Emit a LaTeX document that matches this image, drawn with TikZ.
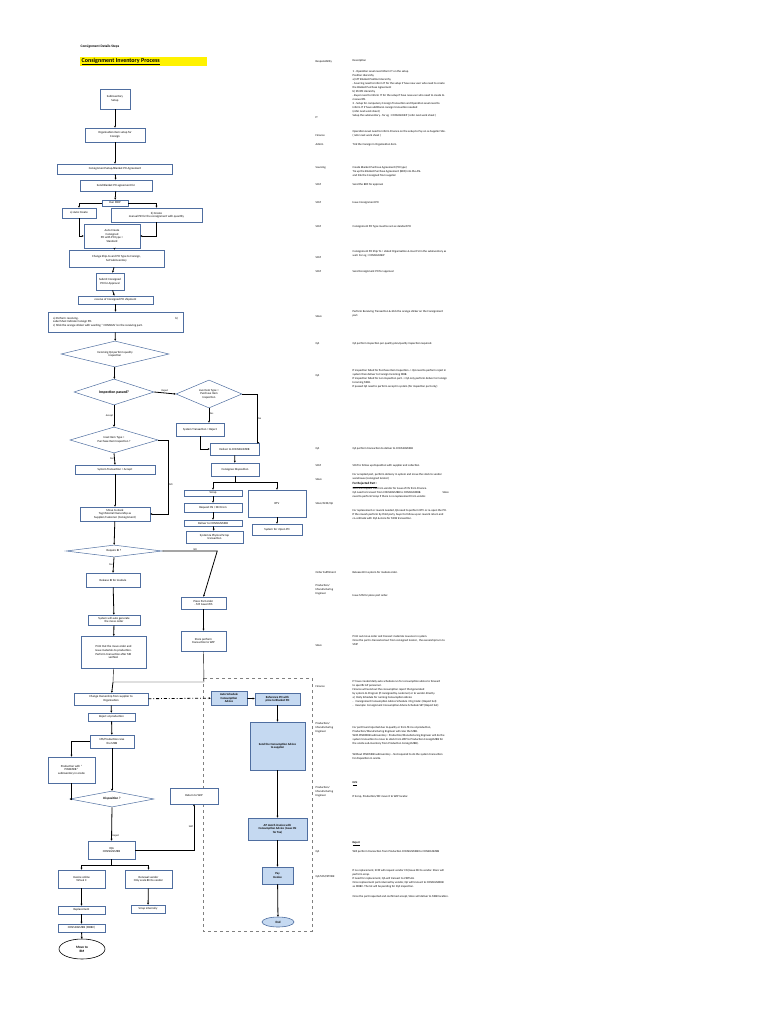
\documentclass[tikz,border=0pt]{standalone}
\usepackage{fontspec}
\setmainfont{Carlito}
\usetikzlibrary{arrows.meta,shapes.geometric}
\definecolor{bd}{RGB}{79,110,160}
\definecolor{bl}{RGB}{197,217,241}
\begin{document}
\begin{tikzpicture}[x=1pt,y=-1pt,
  every node/.style={font=\fontsize{3}{3.6}\selectfont, inner sep=0.5pt},
  box/.style={draw=bd, line width=0.6pt, align=center, fill=white},
  bbox/.style={box, fill=bl, font=\fontsize{3}{3.6}\selectfont\bfseries},
  dia/.style={diamond, draw=bd, line width=0.5pt, aspect=4, align=center, inner sep=0pt},
  arr/.style={line width=0.8pt, -{Stealth[length=2pt,width=2pt]}},
  lbl/.style={font=\fontsize{2.6}{3}\selectfont},
  rt/.style={anchor=north west, align=left, font=\fontsize{2.9}{4}\selectfont}]
\useasboundingbox (0,0) rectangle (768,1024);

% header
\node[anchor=west, font=\fontsize{3.5}{4}\selectfont\bfseries] (hd) at (80,47) {Consignment Details Steps};
\fill[yellow] (80,57) rectangle (207,66);
\node[anchor=west, font=\fontsize{6}{7}\selectfont\bfseries] (tt) at (81,61.5) {\underline{Consignment Inventory Process}};

% left column
\node[box, minimum width=30, minimum height=20] (sub) at (115,99) {Subinventory\\Setup};
\node[box, minimum width=60, minimum height=14] (org) at (115,135) {Organisation item setup for\\Consign};
\node[box, minimum width=115, minimum height=10] (bpa) at (115,169) {Consignment Setup/Blanket PO Agreement};
\node[box, minimum width=72, minimum height=11] (send) at (116,185.5) {Send Blanket PO agreement for};
\node[box, minimum width=26, minimum height=6] (mrp) at (115,203) {Run MRP};
\node[box, minimum width=34, minimum height=10] (auto) at (79,213) {a) Auto Create};
\node[box, minimum width=91, minimum height=14] (man) at (156.5,215) {b) Create\\manual PR for the consignment with quantity};
\node[box, minimum width=56, minimum height=24] (acr) at (112,236) {Auto Create\\Consigned\\PO with PO type =\\Standard};
\node[box, minimum width=95, minimum height=17] (chg) at (116.5,258.5) {Change Ship-to and PO Type to Consign,\\Set Subinventory};
\node[box, minimum width=28, minimum height=17] (sbm) at (110,281.5) {Submit Consigned\\PO for Approval};
\node[box, minimum width=75, minimum height=8] (rcv) at (115.5,300) {receive of Consigned PO shipment};
\node[box, minimum width=135, minimum height=20, align=left] (prf) at (115.5,322) {a) Perform receiving. \hspace{95pt} b)\\Label Must Indicate Consign PO.\\c) Stick the orange sticker with wording " CONSIGN "on the receiving part.};
\node[dia, minimum width=108, minimum height=26] (iqa) at (115,354) {Incoming QA perform quality\\inspection};
\node[dia, minimum width=80, minimum height=26, font=\fontsize{3.8}{4.4}\selectfont\bfseries] (ip) at (114,392) {Inspection passed?};
\node[dia, minimum width=66, minimum height=28] (lit) at (209,394) {Live Item Type =\\Purchase Item\\Inspection};
\node[box, minimum width=48, minimum height=13] (str) at (200,429.5) {System Transaction = Reject};
\node[dia, minimum width=88, minimum height=26] (iit) at (114,440) {Inset Item Type =\\Purchase Item Inspection ?};
\node[box, minimum width=49, minimum height=12] (dlv) at (234.5,449) {Deliver to CONSIGNMRB};
\node[box, minimum width=80, minimum height=9] (sta) at (115,469.5) {System Transaction = Accept};
\node[box, minimum width=48, minimum height=13] (cdp) at (235,469.5) {Consignee Disposition};
\node[box, minimum width=58, minimum height=6] (scr) at (213,493) {Scrap};
\node[box, minimum width=58, minimum height=27] (rtv) at (277,503.5) {RTV};
\node[box, minimum width=58, minimum height=9] (rcn) at (213,507.5) {Request CN / DN From};
\node[box, minimum width=58, minimum height=6] (dl2) at (213,523) {Deliver to CONSIGNMRB};
\node[box, minimum width=57, minimum height=12] (sps) at (214.5,537) {System \& Physical Scrap\\transaction};
\node[box, minimum width=50, minimum height=11] (sop) at (277,529.5) {System for .Open PO};
\node[box, minimum width=70, minimum height=14] (mts) at (115,514) {Move to stock\\Tag Material Ownership as\\Supplier/Customer (Consignment)};
\node[dia, minimum width=96, minimum height=12] (rbi) at (114,551) {Require BI ?};
\node[box, minimum width=54, minimum height=14] (rel) at (113,580) {Release BI for module};
\node[box, minimum width=45, minimum height=12] (ppo) at (203.5,603) {Piece Part order\\- MF Issue MIS};
\node[box, minimum width=52, minimum height=10] (sag) at (114,620) {System will auto generate\\the move order};
\node[box, minimum width=45, minimum height=20] (spt) at (203.5,641) {Store perform\\transaction to WIP};
\node[box, minimum width=65, minimum height=32, anchor=north] (pmo) at (113.5,636) {Print Out the move order and\\Issue materials to production.\\Perform transaction after MR\\verified.};
\coordinate (jn) at (113,682);
\coordinate (jr) at (204,682);

% dashed region
\draw[dashed, gray, line width=0.6pt] (203,678) rectangle (312,931);

\node[box, minimum width=74, minimum height=12] (cho) at (111,699) {Change Ownership from supplier to\\Organisation};
\node[bbox, minimum width=36, minimum height=14] (asc) at (229,698) {Auto Schedule\\Consumption\\Advice};
\node[bbox, minimum width=45, minimum height=12] (rpo) at (277.5,699) {Reference PO with\\price to Blanket PO};
\node[bbox, minimum width=55, minimum height=48] (sca) at (277.5,746) {Send the Consumption Advice\\to supplier};
\node[box, minimum width=47, minimum height=8] (rjp) at (111.5,717) {Reject at production};
\node[box, minimum width=44, minimum height=13] (mrb) at (112,741.5) {MS/Production raise\\the MRB};
\node[box, minimum width=47, minimum height=26] (pin) at (71.5,770) {Production with "\\PINDMRB "\\subinventory in onsite};
\node[dia, minimum width=84, minimum height=16, font=\fontsize{3.2}{3.8}\selectfont\bfseries] (dsp) at (112,799) {Disposition ?};
\node[box, minimum width=48, minimum height=16] (rwp) at (194,796) {Return to WIP};
\node[box, minimum width=47, minimum height=18] (iqm) at (111.5,850) {IQA\\CONSIGNMRB};
\node[box, minimum width=47, minimum height=18] (ivo) at (81.5,879) {Invoice online\\Virtual C};
\node[box, minimum width=47, minimum height=18] (rnv) at (148.5,879) {Renewal vendor\\Only scale BN to vendor};
\node[box, minimum width=47, minimum height=8] (rpl) at (81.5,910) {Replacement};
\node[box, minimum width=34, minimum height=8] (sci) at (148,909) {Scrap internally};
\node[box, minimum width=47, minimum height=8] (mrc) at (81.5,928) {CONSIGNMRB (MRBC)};
\node[ellipse, draw=black, line width=0.6pt, minimum width=46, minimum height=20, align=center, font=\fontsize{3.4}{4}\selectfont\bfseries] (bm) at (82,949) {Move to\\BM};
\node[bbox, minimum width=59, minimum height=22] (apm) at (277.5,829) {AP match invoice with\\Consumption Advice (Issue CN\\for Tax)};
\node[bbox, minimum width=31, minimum height=17] (pay) at (277.5,875.5) {Pay\\Invoice};
\node[ellipse, draw=bd, fill=bl, line width=0.6pt, minimum width=32, minimum height=10, font=\fontsize{3.2}{3.8}\selectfont\bfseries] (end) at (278,922) {End};

% connectors
\draw[arr] (sub) -- (org);
\draw[arr] (org) -- (bpa);
\draw[arr] (bpa) -- (send);
\draw[arr] (send) -- (mrp);
\draw[arr] (mrp.west) -| (auto.north);
\draw[arr] (mrp.east) -| (man.north);
\draw[arr] (auto.south) |- (acr.west);
\draw[arr] (man.south) |- (acr.east);
\draw[arr] (acr) -- (chg);
\draw[arr] (chg) -- (sbm);
\draw[arr] (sbm) -- (rcv);
\draw[arr] (rcv) -- (prf);
\draw[arr] (prf) -- (iqa);
\draw[arr] (iqa) -- (ip);
\draw[arr] (ip.east) -- node[above, lbl] {Reject} (lit.west);
\draw[arr] (lit.south) -- node[right, lbl, pos=0.4] {Yes} (str.north -| lit.south);
\draw[arr] (lit.east) -- ++(15,0) |- node[pos=0.25, right, lbl] {No} (dlv.north east) ;
\draw[arr] (str.south) |- (dlv.west);
\draw[arr] (ip.south) -- node[left, lbl] {Accept} (iit.north);
\draw[arr] (iit.south) -- node[left, lbl] {Yes} (sta.north);
\draw[arr] (iit.east) -- ++(10,0) |- node[pos=0.3, right, lbl] {NO} (mts.east);
\draw[arr] (sta) -- (mts);
\draw[arr] (dlv) -- (cdp);
\draw (cdp.south) -- ++(0,6) coordinate (cs);
\draw[arr] (cs) -| (scr.north);
\draw[arr] (cs) -| (rtv.north);
\draw[arr] (scr) -- (rcn);
\draw[arr] (rcn) -- (dl2);
\draw[arr] (dl2) -- (sps);
\draw[arr] (rtv) -- (sop);
\draw[arr] (mts) -- (rbi);
\draw[arr] (rbi.south) -- node[left, lbl] {Yes} (rel.north);
\draw[arr] (rbi.east) -- node[above, lbl, pos=0.6] {NO} ++(55,0) -- (ppo.north);
\draw[arr] (rel) -- (sag);
\draw[arr] (ppo) -- (spt);
\draw[arr] (sag) -- (pmo);
\draw (pmo.south) -- (jn);
\draw (spt.south) -- (jr) -- (jn);
\draw[arr] (jn) -- (cho);
\draw[arr, dash dot] (cho) -- (asc);
\draw[arr] (asc) -- (rpo);
\draw[arr] (rpo) -- (sca);
\draw[arr] (sca) -- (apm);
\draw[arr] (apm) -- (pay);
\draw[arr] (pay) -- (end);
\draw[arr] (cho) -- (rjp);
\draw[arr] (rjp) -- (mrb);
\draw[arr] (mrb.west) -| (pin.north);
\draw[arr] (mrb) -- (dsp);
\draw[arr] (pin.south) |- (dsp.west);
\draw[arr] (dsp.south) -- node[right, lbl, pos=0.85] {Reject} (iqm.north);
\draw[arr] (iqm.east) -| node[pos=0.75, left, lbl] {SWI} (rwp.south);
\draw (iqm.south) -- ++(0,6) coordinate (is);
\draw[arr] (is) -| (ivo.north);
\draw[arr] (is) -| (rnv.north);
\draw[arr] (ivo) -- (rpl);
\draw[arr] (rnv) -- (sci);
\draw[arr] (rpl) -- (mrc);
\draw[arr] (mrc) -- (bm);

% right column: responsibility and description
\node[rt] (r0) at (315,60) {Responsibility};
\node[rt] (d0) at (352,59) {Description};
\node[rt] (d1) at (352,70) {1 - Operation Level need inform IT on the setup\\Position Hierarchy\\a) MT Blanket Position Hierarchy\\- Sourcing need to inform IT for the setup if have new user who need to create\\the Blanket Purchase Agreement\\b) SM PR Hierarchy\\- Buyer need to inform IT for the setup if have new user who need to create to\\manual PR.\\2 - Setup for compulsory Consign Transaction and Operation Level need to\\inform IT if have additional consign transaction needed\\(refer next work sheet)\\Setup the subinventory - for eg : CONSIGNNEP ( refer next work sheet )};
\node[rt] (r1) at (315,116) {IT};
\node[rt] (d2) at (352,130) {Operation Level need to inform Finance on the setup to Pay on as Supplier Site.\\( refer next work sheet )};
\node[rt] (r2) at (315,134) {Finance};
\node[rt] (r3) at (315,143) {Admin};
\node[rt] (d3) at (352,143) {Tick the Consign in Organisation Item};
\node[rt] (r4) at (315,166) {Sourcing};
\node[rt] (d4) at (352,166) {Create Blanket Purchase Agreement (PO type)\\Tie up the Blanket Purchase Agreement (BPA) into the ASL\\and  link the Consigned from supplier};
\node[rt] (r5) at (315,183) {SCM};
\node[rt] (d5) at (352,183) {Send the BPA for approval};
\node[rt] (r6) at (315,201) {SCM};
\node[rt] (d6) at (352,201) {Issue Consignment PO};
\node[rt] (r7) at (315,225) {SCM};
\node[rt] (d7) at (352,225) {Consignment PO Type must be set as standard PO};
\node[rt] (r8) at (315,256) {SCM};
\node[rt] (d8) at (352,250) {Consignment PO Ship To = stated Organisation \& insert SI in the subinventory as\\well. For eg : CONSIGNNEP};
\node[rt] (r9) at (315,270) {SCM};
\node[rt] (d9) at (352,270) {Send Consignment PO for approval};
\node[rt] (r10) at (315,315) {Store};
\node[rt] (d10) at (352,310) {Perform Receiving Transaction \& stick the orange sticker on the Consignment\\part.};
\node[rt] (r11) at (315,342) {QA};
\node[rt] (d11) at (352,342) {QA perform inspection per quality plan/quality inspection required.};
\node[rt] (r12) at (315,374) {QA};
\node[rt] (d12) at (352,369) {If inspection failed for Purchase Item Inspection -> QA need to perform reject in\\system then deliver to Consign Incoming MRB.\\If inspection failed for non inspection part -> QA only perform deliver to Consign\\Incoming MRB.\\If passed QA need to perform accept in system (for inspection part only)};
\node[rt] (r13) at (315,447) {QA};
\node[rt] (d13) at (352,447) {QA perform transaction to deliver to CONSIGNMRB};
\node[rt] (r14) at (315,464) {SCM};
\node[rt] (d14) at (352,464) {SCM to follow up disposition with supplier and collection};
\node[rt] (r15) at (315,478) {Store};
\node[rt] (d15) at (352,473) {For accepted part, perform delivery in system and  move the stock to vendor\\warehouse (consigned locator)};
\node[rt, font=\fontsize{3.2}{3.6}\selectfont\bfseries] (d16) at (352,482) {\underline{For Rejected Part :}};
\node[rt] (d17) at (352,487) {SCM will request the from vendor for Issue of CN from Finance.\\QA need to transact from CONSIGNMRB to CONSIGNMRB. \hspace{20pt} Store\\need to perform Scrap if there is no replacement from vendor.};
\node[rt] (r16) at (315,502) {Store/SCM/QA};
\node[rt] (d18) at (352,509) {For replacement or rework needed, QA need to perform RTV or re-open the PO.\\If the rework perform by third party, buyer to follow up on rework return and\\co-ordinate with IQA \& store for MOB transaction.};
\node[rt] (r17) at (315,571) {Order Fulfillment};
\node[rt] (d19) at (352,571) {Release BI in system for module order.};
\node[rt] (r18) at (315,584) {Production/\\Manufacturing\\Engineer};
\node[rt] (d20) at (352,594) {Issue MIS for piece part order.};
\node[rt] (r19) at (315,644) {Store};
\node[rt] (d21) at (352,635) {Print out move order and transact materials issuance in system.\\Once the part is transacted out from consigned locator , the ownership turn to\\SMP};
\node[rt] (r20) at (315,685) {Finance};
\node[rt] (d22) at (352,680) {IT have created daily auto schedule run for consumption advice to forward\\to specific AP personnel.\\Finance will send out the consumption report that generated\\by system to Program (if consigned by customer) or to vendor directly.\\a) \ Daily Schedule for running Consumption Advice\\- \ \ Consignment Consumption Advice Schedule <Org Code> (Report Set)\\- \ \ Example: Consignment Consumption Advice Schedule SET (Report Set)};
\node[rt] (r21) at (315,722) {Production/\\Manufacturing\\Engineer};
\node[rt] (d23) at (352,726) {For part found  rejected due to quality or from fit-ins at production,\\Production/Manufacturing Engineer will raise the MRB.\\With PINDMRB subinventory : Production/Manufacturing Engineer will  do the\\system transaction to move to stock from WIP to Production ConsignMRB for\\the onsite sub-inventory from Production ConsignMRB).};
\node[rt] (d24) at (352,753) {Without PINDMRB subinventory -- Not required to do the system transaction\\for disposition in onsite.};
\node[rt, font=\fontsize{2.8}{3.2}\selectfont\bfseries] (d25) at (352,781) {\underline{IUSI}};
\node[rt] (r22) at (315,786) {Production/\\Manufacturing\\Engineer};
\node[rt] (d26) at (352,795) {If Scrap, Production/MF move it to WIP locator.};
\node[rt, font=\fontsize{2.8}{3.2}\selectfont\bfseries] (d27) at (352,841) {\underline{Reject}};
\node[rt] (r23) at (315,850) {QA};
\node[rt] (d28) at (352,850) {Will perform transaction from Production CONSIGNMRB to CONSIGNMRB};
\node[rt] (r24) at (315,875) {QA/SCM/STORE};
\node[rt] (d29) at (352,869) {If no replacement, SCM will request vendor CN (Issue DN to vendor. Store will\\perform scrap.\\If need for replacement, QA will transact to VIRTUAL\\Once replacement part returned by vendor,  QA will transact to CONSIGNMRB\\as MRBC. The lot will be pending for IQA inspection.};
\node[rt] (d30) at (352,895) {Once the part inspected and confirmed accept, Store will deliver to MRB location.};
\end{tikzpicture}
\end{document}
